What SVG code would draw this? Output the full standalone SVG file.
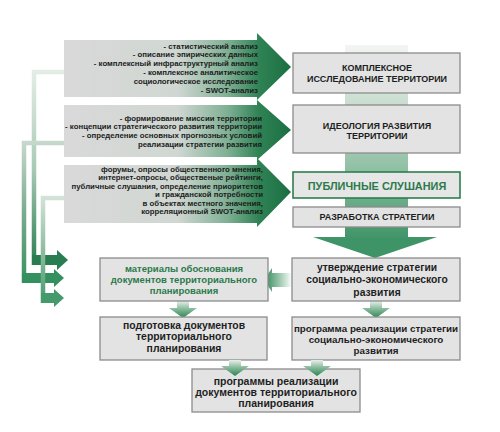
<svg xmlns="http://www.w3.org/2000/svg" width="500" height="432" viewBox="0 0 500 432">
<defs>
<linearGradient id="gBanner" gradientUnits="objectBoundingBox" x1="0" y1="0" x2="1" y2="0">
<stop offset="0" stop-color="#d9d9d9"/>
<stop offset="0.5" stop-color="#d0d7d2"/>
<stop offset="0.72" stop-color="#7fb094"/>
<stop offset="0.86" stop-color="#2f8254"/>
<stop offset="1" stop-color="#1a6f42"/>
</linearGradient>
<linearGradient id="gBand" gradientUnits="userSpaceOnUse" x1="0" y1="45" x2="0" y2="240">
<stop offset="0" stop-color="#f2f6f3"/>
<stop offset="0.3" stop-color="#c9ddd0"/>
<stop offset="0.65" stop-color="#8dbfa2"/>
<stop offset="1" stop-color="#3e9466"/>
</linearGradient>
<linearGradient id="gL1" gradientUnits="userSpaceOnUse" x1="0" y1="70" x2="0" y2="265">
<stop offset="0" stop-color="#e4ede7"/>
<stop offset="0.5" stop-color="#a9cbb6"/>
<stop offset="1" stop-color="#2a7d50"/>
</linearGradient>
<linearGradient id="gL2" gradientUnits="userSpaceOnUse" x1="0" y1="140" x2="0" y2="285">
<stop offset="0" stop-color="#c9d9cf"/>
<stop offset="0.5" stop-color="#79ac8e"/>
<stop offset="1" stop-color="#35905f"/>
</linearGradient>
<linearGradient id="gL3" gradientUnits="userSpaceOnUse" x1="0" y1="195" x2="0" y2="305">
<stop offset="0" stop-color="#d6e4db"/>
<stop offset="0.5" stop-color="#8fbca0"/>
<stop offset="1" stop-color="#449a6b"/>
</linearGradient>
<linearGradient id="gDown" gradientUnits="objectBoundingBox" x1="0" y1="0" x2="0" y2="1">
<stop offset="0" stop-color="#e8f0eb"/>
<stop offset="0.45" stop-color="#8cbc9f"/>
<stop offset="1" stop-color="#2b8553"/>
</linearGradient>
<linearGradient id="gLeft" gradientUnits="objectBoundingBox" x1="1" y1="0" x2="0" y2="0">
<stop offset="0" stop-color="#ffffff"/>
<stop offset="0.45" stop-color="#9cc7ad"/>
<stop offset="1" stop-color="#2b8553"/>
</linearGradient>
</defs>
<style>
.banner{fill:url(#gBanner);}
.bt{font-family:"Liberation Sans",Arial,sans-serif;font-weight:bold;font-size:7.8px;fill:#1c1c1c;text-anchor:end;}
.box{fill:#e3e3e3;stroke:#8c8c8c;stroke-width:1.3;}
.boxg{fill:#e6e6e6;stroke:#2e7d4f;stroke-width:1.6;}
.t{font-family:"Liberation Sans",Arial,sans-serif;font-weight:bold;fill:#1e1e1e;text-anchor:middle;}
.tg{fill:#2b7a4b;}
.down{fill:url(#gDown);}
</style>
<rect width="500" height="432" fill="#ffffff"/>

<g id="connectors">
<path d="M64,72 H34 V255" fill="none" stroke="url(#gL1)" stroke-width="4.5"/>
<path d="M31.75,255 H57 V250 L68,260 L57,270 V265 H31.75 Z" fill="#2a7d50"/>
<path d="M64,143 H24 V273" fill="none" stroke="url(#gL2)" stroke-width="4.5"/>
<path d="M21.75,273 H54 V269 L64,278 L54,287 V283 H21.75 Z" fill="#35905f"/>
<path d="M64,198 H43 V293" fill="none" stroke="url(#gL3)" stroke-width="4.5"/>
<path d="M40.75,293 H54 V289 L64,298 L54,307 V303 H40.75 Z" fill="#449a6b"/>
<path d="M345,45 H408 V237 H437 L375,258 L313,237 H345 Z" fill="url(#gBand)"/>
<path d="M292,273 H272 V268 L264,280 L272,292 V287 H292 Z" fill="url(#gLeft)"/>
<path d="M177,301 H189 V308 H197 L183,318 L169,308 H177 Z" class="down"/>
<path d="M370,301 H382 V308 H390 L376,318 L362,308 H370 Z" class="down"/>
</g>

<g id="banner1">
<path class="banner" d="M64,40 H257 V33 L291,67 L257,100 V97 H64 Z"/>
<text class="bt" x="258" y="48.5">- статистический анализ</text>
<text class="bt" x="258" y="57.4">- описание эпирических данных</text>
<text class="bt" x="258" y="66.3">- комплексный инфраструктурный анализ</text>
<text class="bt" x="258" y="75.2">- комплексное аналитическое</text>
<text class="bt" x="258" y="84.1">социологическое исследование</text>
<text class="bt" x="258" y="93">- SWOT-анализ</text>
</g>

<g id="banner2">
<path class="banner" d="M64,105 H257 V100 L291,130 L257,160 V157 H64 Z"/>
<text class="bt" x="262" y="120.5">- формирование миссии территории</text>
<text class="bt" x="262" y="129.3">- концепции стратегического развития территории</text>
<text class="bt" x="262" y="138.1">- определение основных прогнозных условий</text>
<text class="bt" x="262" y="146.9">реализации стратегии развития</text>
</g>

<g id="banner3">
<path class="banner" d="M64,165 H257 V158 L291,192 L257,227 V223 H64 Z"/>
<text class="bt" x="263" y="172">форумы, опросы общественного мнения,</text>
<text class="bt" x="263" y="180.4">интернет-опросы, общественые рейтинги,</text>
<text class="bt" x="263" y="188.8">публичные слушания, определение приоритетов</text>
<text class="bt" x="263" y="197.2">и гражданской потребности</text>
<text class="bt" x="263" y="205.6">в объектах местного значения,</text>
<text class="bt" x="263" y="214">корреляционный SWOT-анализ</text>
</g>

<g id="boxA">
<rect class="box" x="293" y="53" width="167" height="40"/>
<text class="t" x="377" y="70.5" font-size="9">КОМПЛЕКСНОЕ</text>
<text class="t" x="377" y="81.5" font-size="9">ИССЛЕДОВАНИЕ ТЕРРИТОРИИ</text>
</g>

<g id="boxB">
<rect class="box" x="293" y="105" width="167" height="48"/>
<text class="t" x="377" y="128.5" font-size="9">ИДЕОЛОГИЯ РАЗВИТИЯ</text>
<text class="t" x="377" y="139" font-size="9">ТЕРРИТОРИИ</text>
</g>

<g id="boxC">
<rect class="boxg" x="293" y="172" width="167" height="26"/>
<text class="t tg" x="377" y="189.8" font-size="10.9">ПУБЛИЧНЫЕ СЛУШАНИЯ</text>
</g>

<g id="boxD">
<rect class="box" x="293" y="207" width="167" height="20"/>
<text class="t" x="377" y="220.3" font-size="9">РАЗРАБОТКА СТРАТЕГИИ</text>
</g>

<g id="boxE">
<rect class="box" x="292" y="258" width="168" height="43"/>
<text class="t" x="377" y="271" font-size="10.3">утверждение стратегии</text>
<text class="t" x="377" y="282.5" font-size="10.3">социально-экономического</text>
<text class="t" x="377" y="295.5" font-size="10.3">развития</text>
</g>

<g id="boxF">
<rect class="box" x="100" y="258" width="168" height="43"/>
<text class="t tg" x="184" y="272" font-size="9.5">материалы обоснования</text>
<text class="t tg" x="184" y="283" font-size="9.5">документов территориального</text>
<text class="t tg" x="184" y="294" font-size="9.5">планирования</text>
</g>

<g id="boxG">
<rect class="box" x="100" y="317" width="167" height="43"/>
<text class="t" x="184" y="328.5" font-size="10.4">подготовка документов</text>
<text class="t" x="184" y="340" font-size="10.4">территориального</text>
<text class="t" x="184" y="351.5" font-size="10.4">планирования</text>
</g>

<g id="boxH">
<rect class="box" x="292" y="317" width="168" height="43"/>
<text class="t" x="376" y="332" font-size="9.8">программа реализации стратегии</text>
<text class="t" x="376" y="343" font-size="9.8">социально-экономического</text>
<text class="t" x="376" y="354" font-size="9.8">развития</text>
</g>

<g id="boxI">
<rect class="box" x="192" y="369" width="168" height="43"/>
<text class="t" x="276" y="384.5" font-size="10.5">программы реализации</text>
<text class="t" x="276" y="395.5" font-size="10.5">документов территориального</text>
<text class="t" x="276" y="406.5" font-size="10.5">планирования</text>
</g>

<g id="connectors-bottom">
<path d="M229,360 H241 V366 H249 L235,376 L221,366 H229 Z" class="down"/>
<path d="M311,360 H323 V366 H331 L317,376 L303,366 H311 Z" class="down"/>
</g>
</svg>
